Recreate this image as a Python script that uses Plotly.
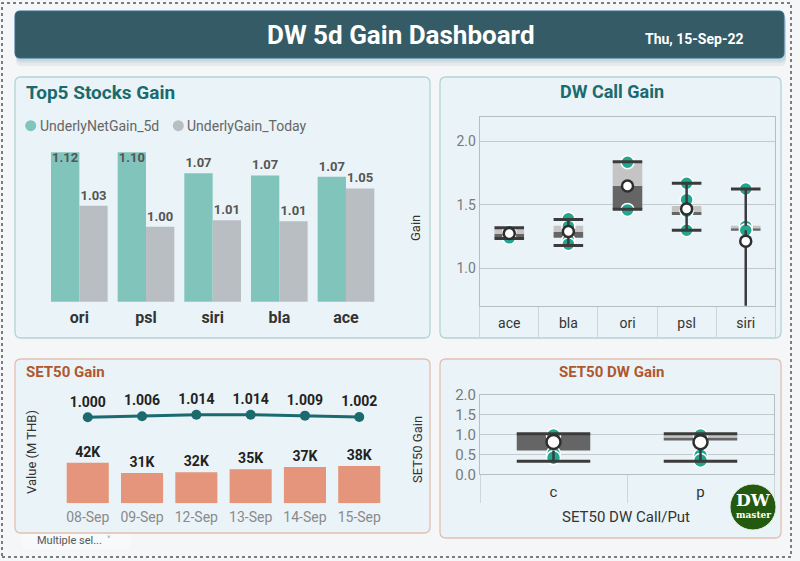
import plotly.graph_objects as go

W, H = 800, 561
def X(x): return x / W
def Y(y): return 1 - y / H

# ---------------- DATA ----------------
top_stocks = ["ori", "psl", "siri", "bla", "ace"]
net_gain_5d = [1.12, 1.104, 1.074, 1.071, 1.069]
gain_today = [1.029, 1.000, 1.009, 1.0075, 1.053]

call_cats = ["ace", "bla", "ori", "psl", "siri"]
call_low = [1.235, 1.18, 1.466, 1.30, 0.60]
call_q1 = [1.24, 1.24, 1.466, 1.42, 1.30]
call_med = [1.27, 1.285, 1.65, 1.445, 1.315]
call_q3 = [1.31, 1.335, 1.84, 1.49, 1.335]
call_high = [1.32, 1.385, 1.84, 1.67, 1.625]
call_mean = [1.274, 1.29, 1.648, 1.468, 1.214]
call_points = [[1.29, 1.24], [1.39, 1.33, 1.22, 1.19], [1.835, 1.46],
               [1.67, 1.54, 1.45, 1.30], [1.625, 1.33, 1.30, 0.60]]

set50_dates = ["08-Sep", "09-Sep", "12-Sep", "13-Sep", "14-Sep", "15-Sep"]
set50_value = [41650, 31050, 31800, 34850, 37200, 38250]
set50_gain = [1.000, 1.006, 1.014, 1.014, 1.009, 1.002]

dw_cats = ["c", "p"]
dw_low = [0.33, 0.33]
dw_q1 = [0.60, 0.85]
dw_med = [1.01, 0.93]
dw_q3 = [1.02, 1.01]
dw_high = [1.02, 1.02]
dw_mean = [0.815, 0.81]
dw_points = [[0.98, 0.52, 0.42], [0.98, 0.47, 0.35]]

# ---------------- STYLE ----------------
FONT = "Roboto, Noto Sans, sans-serif"
TEAL_BAR = "#80c4bc"
GRAY_BAR = "#b9bec3"
SALMON = "#e4957b"
LINE_TEAL = "#1b6b6e"
DOT_TEAL = "#22a690"
DARK = "#3b3b3b"
TOP_Y_MAX = 1.103
BW = 0.425

fig = go.Figure()

# Top5 Stocks Gain (numeric category positions)
top_idx = list(range(len(top_stocks)))
lbl_font = dict(family=FONT, size=13, color="#555555", weight="bold")
for vals, col, off in [(net_gain_5d, TEAL_BAR, -BW), (gain_today, GRAY_BAR, 0.0)]:
    fig.add_trace(go.Bar(
        x=top_idx, y=vals, width=BW, offset=off, marker_color=col, marker_line_width=0,
        text=[f"{v:.2f}" if v < TOP_Y_MAX else "" for v in vals], textposition="outside",
        textangle=0, constraintext="none", textfont=lbl_font, outsidetextfont=lbl_font,
        xaxis="x", yaxis="y", showlegend=False, hoverinfo="skip"))
    # labels for bars that run past the top of the axis: drawn inside, at the top edge
    clipped = [(i, v) for i, v in zip(top_idx, vals) if v >= TOP_Y_MAX]
    if clipped:
        fig.add_trace(go.Scatter(
            x=[i + off + BW / 2 for i, _ in clipped], y=[TOP_Y_MAX for _ in clipped],
            text=[f"{v:.2f}" for _, v in clipped], mode="text", textposition="bottom center",
            textfont=lbl_font, xaxis="x", yaxis="y", showlegend=False, hoverinfo="skip"))


def add_box(cats, low, q1, med, q3, high, mean, points, xa, ya, pt_size, mean_size):
    idx = list(range(len(cats)))
    fig.add_trace(go.Bar(x=idx, y=[m - q for m, q in zip(med, q1)], base=q1, width=0.5,
                         marker_color="#656565", marker_line_width=0,
                         xaxis=xa, yaxis=ya, showlegend=False, hoverinfo="skip"))
    fig.add_trace(go.Bar(x=idx, y=[q - m for q, m in zip(q3, med)], base=med, width=0.5,
                         marker_color="#c4c4c4", marker_line_width=0,
                         xaxis=xa, yaxis=ya, showlegend=False, hoverinfo="skip"))
    px_, py_ = [], []
    for i, pts in enumerate(points):
        px_ += [i] * len(pts)
        py_ += pts
    fig.add_trace(go.Scatter(x=px_, y=py_, mode="markers",
                             marker=dict(size=pt_size, color=DOT_TEAL,
                                         line=dict(color="white", width=1.5)),
                             xaxis=xa, yaxis=ya, showlegend=False, hoverinfo="skip"))
    wx, wy = [], []
    for i in idx:
        wx += [i, i, None, i, i, None]
        wy += [low[i], q1[i], None, q3[i], high[i], None]
    fig.add_trace(go.Scatter(x=wx, y=wy, mode="lines", line=dict(color=DARK, width=2.5),
                             xaxis=xa, yaxis=ya, showlegend=False, hoverinfo="skip"))
    cx, cy = [], []
    for i in idx:
        cx += [i - 0.25, i + 0.25, None, i - 0.25, i + 0.25, None]
        cy += [low[i], low[i], None, high[i], high[i], None]
    fig.add_trace(go.Scatter(x=cx, y=cy, mode="lines", line=dict(color=DARK, width=3),
                             xaxis=xa, yaxis=ya, showlegend=False, hoverinfo="skip"))
    fig.add_trace(go.Scatter(x=idx, y=mean, mode="markers",
                             marker=dict(size=mean_size, color="white",
                                         line=dict(color="#2e2e2e", width=2.5)),
                             xaxis=xa, yaxis=ya, showlegend=False, hoverinfo="skip"))


add_box(call_cats, call_low, call_q1, call_med, call_q3, call_high, call_mean, call_points,
        "x2", "y2", 13, 11)

# SET50 Gain
fig.add_trace(go.Bar(
    x=set50_dates, y=set50_value, width=0.775, marker_color=SALMON, marker_line_width=0,
    text=[f"{v / 1000:.0f}K" for v in set50_value], textposition="outside",
    textfont=dict(family=FONT, size=14, color="#222222", weight="bold"),
    xaxis="x3", yaxis="y3", showlegend=False, hoverinfo="skip", cliponaxis=False))
fig.add_trace(go.Scatter(
    x=set50_dates, y=set50_gain, mode="lines+markers+text", texttemplate="%{y:.3f}",
    textposition="top center", textfont=dict(family=FONT, size=14, color="#222222", weight="bold"),
    line=dict(color=LINE_TEAL, width=3), marker=dict(size=10, color=LINE_TEAL),
    xaxis="x3", yaxis="y4", showlegend=False, hoverinfo="skip", cliponaxis=False))

add_box(dw_cats, dw_low, dw_q1, dw_med, dw_q3, dw_high, dw_mean, dw_points,
        "x5", "y5", 14, 14)

# ---------------- SHAPES ----------------
def rrect(x0, y0, x1, y1, r):
    return (f"M {X(x0 + r)},{Y(y0)} L {X(x1 - r)},{Y(y0)} Q {X(x1)},{Y(y0)} {X(x1)},{Y(y0 + r)} "
            f"L {X(x1)},{Y(y1 - r)} Q {X(x1)},{Y(y1)} {X(x1 - r)},{Y(y1)} "
            f"L {X(x0 + r)},{Y(y1)} Q {X(x0)},{Y(y1)} {X(x0)},{Y(y1 - r)} "
            f"L {X(x0)},{Y(y0 + r)} Q {X(x0)},{Y(y0)} {X(x0 + r)},{Y(y0)} Z")

shapes = []
shapes.append(dict(type="rect", xref="paper", yref="paper", x0=X(2), x1=X(791), y0=Y(557), y1=Y(3),
                   line=dict(color="#555555", width=1.5, dash="dot"), layer="below"))
# header shadow
for off, op in [(8, 0.25), (5, 0.35), (3, 0.5)]:
    shapes.append(dict(type="path", xref="paper", yref="paper",
                       path=rrect(15 + 1, 11 + off, 785 + 1, 58 + off, 6),
                       fillcolor="#b8cbd0", opacity=op, line=dict(width=0), layer="below"))
shapes.append(dict(type="path", xref="paper", yref="paper", path=rrect(15, 11, 784, 58, 5),
                   fillcolor="#355b66", line=dict(color="#2f6a9a", width=1), layer="below"))
# panels
for (x0, y0, x1, y1, col) in [(15, 77, 430, 338, "#b3d4d6"), (440, 77, 781, 338, "#b3d4d6"),
                              (15, 359, 430, 533, "#e2c0b0"), (440, 359, 781, 538, "#e2c0b0")]:
    shapes.append(dict(type="path", xref="paper", yref="paper", path=rrect(x0, y0, x1, y1, 6),
                       fillcolor="#eaf3f7", line=dict(color=col, width=1.3), layer="below"))
# slicer box
shapes.append(dict(type="rect", xref="paper", yref="paper", x0=X(22), x1=X(130), y0=Y(550), y1=Y(534),
                   fillcolor="#f7f9fa", line=dict(width=0), layer="below"))
# legend dots
shapes.append(dict(type="circle", xref="paper", yref="paper", x0=X(25.2), x1=X(36.2), y0=Y(131.2), y1=Y(120.2),
                   fillcolor=TEAL_BAR, line=dict(width=0)))
shapes.append(dict(type="circle", xref="paper", yref="paper", x0=X(172.8), x1=X(183.8), y0=Y(131.2), y1=Y(120.2),
                   fillcolor=GRAY_BAR, line=dict(width=0)))
# logo
shapes.append(dict(type="circle", xref="paper", yref="paper", x0=X(730), x1=X(776), y0=Y(530), y1=Y(484),
                   fillcolor="#245a10", line=dict(color="#e8efe6", width=1)))

# ---------------- ANNOTATIONS ----------------
def ann(text, x, y, size, color, bold=False, xanchor="center", angle=0, family=FONT):
    return dict(text=f"<b>{text}</b>" if bold else text, x=X(x), y=Y(y), xref="paper", yref="paper",
                xanchor=xanchor, yanchor="middle", showarrow=False, textangle=angle,
                font=dict(family=family, size=size, color=color))

annotations = [
    ann("DW 5d Gain Dashboard", 401, 35, 26, "white", True),
    ann("Thu, 15-Sep-22", 694, 39, 14, "white", True),
    ann("Top5 Stocks Gain", 24, 92, 19, "#1a6b70", True, "left"),
    ann("UnderlyNetGain_5d", 38, 126, 14, "#666666", False, "left"),
    ann("UnderlyGain_Today", 185, 126, 14, "#666666", False, "left"),
    ann("DW Call Gain", 612, 91, 18, "#1a6b70", True),
    ann("Gain", 415, 228, 13, "#333333", False, "center", -90),
    ann("SET50 Gain", 24, 372, 15, "#b0572f", True, "left"),
    ann("Value (M THB)", 31, 452, 13, "#333333", False, "center", -90),
    ann("SET50 Gain", 417, 450, 13, "#333333", False, "center", -90),
    ann("SET50 DW Gain", 611, 372, 15, "#b0572f", True),
    ann("SET50 DW Call/Put", 626, 517, 15, "#333333"),
    ann("DW", 753, 500, 17, "white", True, "center", 0, "DejaVu Serif"),
    ann("master", 753, 515, 9, "white", True, "center", 0, "DejaVu Serif"),
    ann("Multiple sel...  ˅", 35, 540, 11, "#555555", False, "left"),
]

axis_common = dict(zeroline=False, fixedrange=True)
fig.update_layout(
    width=W, height=H, margin=dict(l=0, r=0, t=0, b=0, pad=0, autoexpand=False),
    paper_bgcolor="#f4f6f7", plot_bgcolor="rgba(0,0,0,0)",
    barmode="overlay", showlegend=False, font=dict(family=FONT),
    shapes=shapes, annotations=annotations,
    xaxis=dict(domain=[X(46), X(379.3)], range=[-0.5, 4.5], tickvals=top_idx, ticktext=top_stocks,
               showgrid=False, showline=False, ticks="", ticklabelstandoff=4,
               tickfont=dict(family=FONT, size=16, color="#333333", weight="bold"),
               anchor="y", **axis_common),
    yaxis=dict(domain=[Y(301.7), Y(152.3)], range=[0.896, TOP_Y_MAX], visible=False, anchor="x", **axis_common),
    xaxis2=dict(domain=[X(479.7), X(775.3)], range=[-0.5, 4.5], tickvals=list(range(len(call_cats))),
                ticktext=call_cats, showgrid=False, showline=True, mirror=True, linecolor="#b5bec2",
                ticks="", ticklabelstandoff=4, tickfont=dict(family=FONT, size=14, color="#333333"),
                minor=dict(tickmode="array", tickvals=[i - 0.5 for i in range(len(call_cats) + 1)],
                           ticks="outside", ticklen=32, tickcolor="#cdd7db", tickwidth=1, showgrid=False),
                anchor="y2", **axis_common),
    yaxis2=dict(domain=[Y(305.7), Y(116.7)], range=[0.7055, 2.194], tickvals=[1.0, 1.5, 2.0],
                tickformat=".1f", gridcolor="#c2cacd", showline=True, mirror=True, linecolor="#b5bec2",
                tickfont=dict(family=FONT, size=14, color="#7a7a7a"), anchor="x2", **axis_common),
    xaxis3=dict(domain=[X(60.6), X(386.4)], type="category", range=[-0.5, 5.5], showgrid=False,
                showline=False, ticks="", ticklabelstandoff=4,
                tickfont=dict(family=FONT, size=14, color="#8a8a8a"),
                anchor="y3", **axis_common),
    yaxis3=dict(domain=[Y(503.3), Y(380)], range=[0, 126460], visible=False, anchor="x3", **axis_common),
    yaxis4=dict(overlaying="y3", range=[0.5369, 1.2009], visible=False, anchor="x3", side="right",
                **axis_common),
    xaxis5=dict(domain=[X(480), X(774)], range=[-0.5, 1.5], tickvals=[0, 1], ticktext=dw_cats,
                showgrid=False, showline=True, mirror=True, linecolor="#b5bec2", ticks="",
                ticklabelstandoff=4, tickfont=dict(family=FONT, size=15, color="#333333"),
                minor=dict(tickmode="array", tickvals=[-0.5, 0.5, 1.5], ticks="outside", ticklen=28,
                           tickcolor="#cdd7db", tickwidth=1, showgrid=False),
                anchor="y5", **axis_common),
    yaxis5=dict(domain=[Y(474.3), Y(395)], range=[0, 2], tickvals=[0, 0.5, 1.0, 1.5, 2.0],
                tickformat=".1f", gridcolor="#c2cacd", showline=True, mirror=True, linecolor="#b5bec2",
                tickfont=dict(family=FONT, size=15, color="#7a7a7a"), anchor="x5", **axis_common),
)

fig.write_html("out.html", config={"displayModeBar": False})
